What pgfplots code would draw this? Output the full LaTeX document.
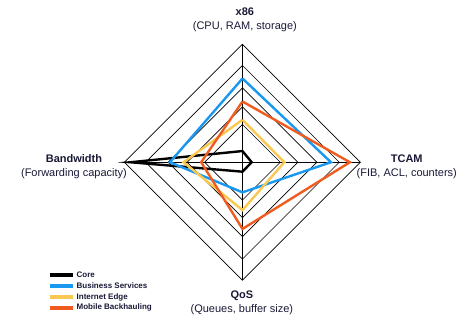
\documentclass[border=0pt]{standalone}
\usepackage{pgfplots}
\pgfplotsset{compat=1.18}
\usepackage{fontspec}
\setmainfont{Liberation Sans}
\definecolor{navy}{RGB}{25,25,55}
\definecolor{cblue}{RGB}{24,152,240}
\definecolor{cyellow}{RGB}{250,200,80}
\definecolor{corange}{RGB}{240,92,32}
\begin{document}
\begin{tikzpicture}
\begin{axis}[
  x=118pt, y=118pt,
  xmin=-1, xmax=1, ymin=-1, ymax=1,
  hide axis, clip=false,
  legend style={at={(axis cs:-1.646,-0.915)}, anchor=north west, draw=none, fill=none,
    inner sep=0pt, font=\fontsize{8}{9}\selectfont\bfseries, text=navy,
    row sep=1.2pt, nodes={inner sep=1.2pt}},
  legend cell align=left,
  legend image code/.code={\draw[#1, line width=4pt, line cap=butt] (0pt,0pt) -- (23pt,0pt);},
]
% grid diamonds
\addplot[forget plot, black, line width=0.7pt] coordinates {(0,1) (1,0) (0,-1) (-1,0) (0,1)};
\addplot[forget plot, black, line width=0.7pt] coordinates {(0,0.82) (0.82,0) (0,-0.82) (-0.82,0) (0,0.82)};
\addplot[forget plot, black, line width=0.7pt] coordinates {(0,0.63) (0.63,0) (0,-0.63) (-0.63,0) (0,0.63)};
\addplot[forget plot, black, line width=0.7pt] coordinates {(0,0.47) (0.47,0) (0,-0.47) (-0.47,0) (0,0.47)};
\addplot[forget plot, black, line width=0.7pt] coordinates {(0,0.32) (0.32,0) (0,-0.32) (-0.32,0) (0,0.32)};
% spokes
\addplot[forget plot, black, line width=0.7pt] coordinates {(-1,0) (1,0)};
\addplot[forget plot, black, line width=0.7pt] coordinates {(0,-1) (0,1)};
% series: top, right, bottom, left
\addplot[black, line width=2.4pt, line join=miter, miter limit=30] coordinates {(0,0.095) (0.078,0) (0,-0.08) (-0.95,0) (0,0.095)};
\addlegendentry{Core}
\addplot[cblue, line width=2.4pt, line join=miter] coordinates {(0,0.71) (0.75,0) (0,-0.255) (-0.615,0) (0,0.71)};
\addlegendentry{Business Services}
\addplot[cyellow, line width=2.4pt, line join=miter] coordinates {(0,0.36) (0.355,0) (0,-0.405) (-0.50,0) (0,0.36)};
\addlegendentry{Internet Edge}
\addplot[corange, line width=2.4pt, line join=miter] coordinates {(0,0.515) (0.91,0) (0,-0.565) (-0.35,0) (0,0.515)};
\addlegendentry{Mobile Backhauling}
% labels
\node[align=center, text=navy, font=\fontsize{11}{14}\selectfont] at (axis cs:0.02,1.21) {\textbf{x86}\\(CPU, RAM, storage)};
\node[align=center, text=navy, font=\fontsize{11}{14}\selectfont] at (axis cs:-0.005,-1.192) {\textbf{QoS}\\(Queues, buffer size)};
\node[align=center, text=navy, font=\fontsize{11}{14}\selectfont] at (axis cs:-1.428,-0.04) {\textbf{Bandwidth}\\(Forwarding capacity)};
\node[align=center, text=navy, font=\fontsize{11}{14}\selectfont] at (axis cs:1.392,-0.04) {\textbf{TCAM}\\(FIB, ACL, counters)};
% page extent
\path (axis cs:-2.055,-1.370) rectangle (axis cs:1.962,1.375);
\end{axis}
\end{tikzpicture}
\end{document}
